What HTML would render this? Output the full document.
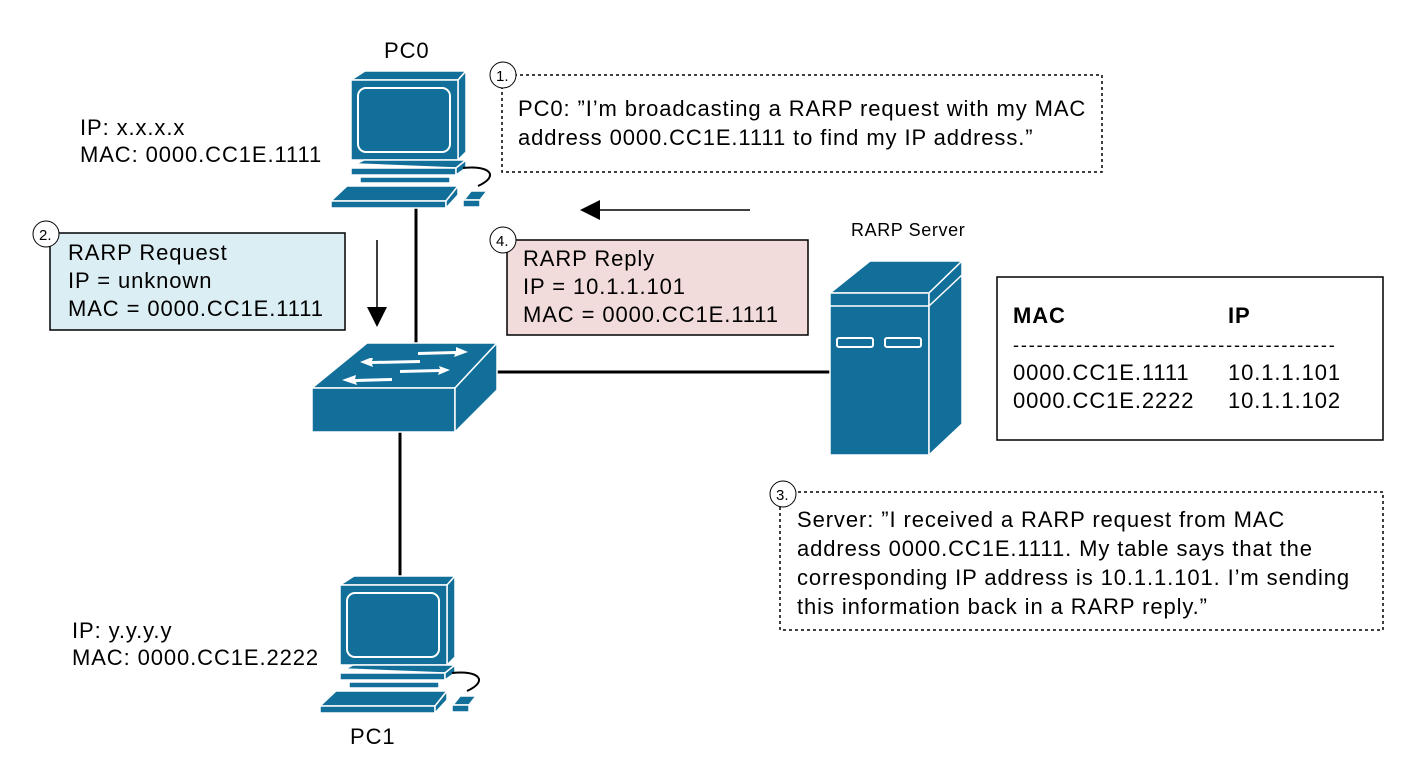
<!DOCTYPE html><html><head><style>body{margin:0;background:#fff}svg{display:block}text{font-family:"Liberation Sans",sans-serif;font-size:22px;letter-spacing:0.9px;fill:#000}</style></head><body>
<svg width="1425" height="774" xmlns="http://www.w3.org/2000/svg">
<defs>
<g id="pc">
<polygon points="351,80 365,71 466,71 458,80" fill="#126f9a" stroke="#fff" stroke-width="1.5"/>
<polygon points="458,80 466,71 466,152 458,160" fill="#126f9a" stroke="#fff" stroke-width="1.5"/>
<rect x="351" y="80" width="107" height="80" fill="#126f9a" stroke="#fff" stroke-width="1.5"/>
<rect x="358" y="88" width="92" height="64" rx="8" fill="#126f9a" stroke="#fff" stroke-width="2"/>
<polygon points="356,164 364,160 466,160 456,168 " fill="#126f9a" stroke="#fff" stroke-width="1.5"/>
<rect x="351" y="168" width="105" height="7" fill="#126f9a" stroke="#fff" stroke-width="1.5"/>
<polygon points="456,168 466,160 466,168 456,175" fill="#126f9a" stroke="#fff" stroke-width="1.5"/>
<rect x="360" y="177" width="90" height="6" fill="#126f9a" stroke="#fff" stroke-width="1.5"/>
<polygon points="331,201 347,186 458,186 446,201" fill="#126f9a" stroke="#fff" stroke-width="1.5"/>
<rect x="331" y="201" width="115" height="7" fill="#126f9a" stroke="#fff" stroke-width="1.5"/>
<polygon points="446,201 458,186 458,195 446,208" fill="#126f9a" stroke="#fff" stroke-width="1.5"/>
<polygon points="464,200 471,191 487,191 480,200" fill="#126f9a" stroke="#fff" stroke-width="1.5"/>
<rect x="463" y="200" width="17" height="7" fill="#126f9a" stroke="#fff" stroke-width="1.5"/>
<path d="M463,168 C490,165 500,176 478,186" fill="none" stroke="#000" stroke-width="2"/>
</g>
<marker id="ah" viewBox="0 0 10 10" refX="9" refY="5" markerWidth="13" markerHeight="13" markerUnits="userSpaceOnUse" orient="auto"><path d="M0,0 L10,5 L0,10 z" fill="#000"/></marker>
<marker id="ah2" viewBox="0 0 10 10" refX="9" refY="5" markerWidth="20" markerHeight="20" markerUnits="userSpaceOnUse" orient="auto"><path d="M0,0 L10,5 L0,10 z" fill="#000"/></marker>
</defs>
<line x1="416" y1="208" x2="416" y2="345" stroke="#000" stroke-width="3"/>
<line x1="400" y1="430" x2="400" y2="576" stroke="#000" stroke-width="3"/>
<line x1="495" y1="372" x2="830" y2="372" stroke="#000" stroke-width="3"/>
<use href="#pc"/>
<use href="#pc" transform="translate(-11,505)"/>
<polygon points="312,388 367,343 497,343 455,388" fill="#126f9a" stroke="#fff" stroke-width="1.5"/>
<rect x="312" y="388" width="143" height="44" fill="#126f9a" stroke="#fff" stroke-width="1.5"/>
<polygon points="455,388 497,343 497,390 455,432" fill="#126f9a" stroke="#fff" stroke-width="1.5"/>
<g fill="#fff"><path d="M418,352 L456,351 L456,347 L468,352 L454,357 L455,354 L418,355z"/><path d="M420,360 L372,361 L373,358 L370,358 L360,362 L373,367 L372,364 L420,363z"/><path d="M400,370 L440,369 L439,366 L450,370 L438,375 L439,372 L400,373z"/><path d="M392,378 L355,379 L356,375 L342,380 L357,385 L356,382 L392,381z"/></g>
<polygon points="830,293 870,261 962,261 929,293" fill="#126f9a" stroke="#fff" stroke-width="1.5"/>
<rect x="830" y="293" width="99" height="162" fill="#126f9a" stroke="#fff" stroke-width="1.5"/>
<polygon points="929,293 962,261 962,424 929,455" fill="#126f9a" stroke="#fff" stroke-width="1.5"/>
<line x1="830" y1="306" x2="929" y2="306" stroke="#fff" stroke-width="1.5"/>
<line x1="929" y1="306" x2="962" y2="275" stroke="#fff" stroke-width="1.5"/>
<rect x="837" y="338" width="36" height="9" rx="2" fill="none" stroke="#fff" stroke-width="2"/>
<rect x="885" y="338" width="36" height="9" rx="2" fill="none" stroke="#fff" stroke-width="2"/>
<line x1="377" y1="240" x2="377" y2="325" stroke="#000" stroke-width="1.5" marker-end="url(#ah2)"/>
<line x1="750" y1="210" x2="582" y2="210" stroke="#000" stroke-width="1.5" marker-end="url(#ah2)"/>
<text x="384" y="58">PC0</text>
<text x="350" y="744">PC1</text>
<text x="80" y="135">IP: x.x.x.x</text>
<text x="80" y="162">MAC: 0000.CC1E.1111</text>
<text x="72" y="638">IP: y.y.y.y</text>
<text x="72" y="665">MAC: 0000.CC1E.2222</text>
<text x="851" y="236" style="font-size:18px;letter-spacing:0.6px">RARP Server</text>
<rect x="502" y="75" width="600" height="97" fill="none" stroke="#000" stroke-width="1.5" stroke-dasharray="3,3"/>
<circle cx="503" cy="75" r="13" fill="#fff" stroke="#000" stroke-width="1"/><text x="496" y="81" style="font-size:15px;letter-spacing:0">1.</text>
<text x="518" y="116">PC0: ”I’m broadcasting a RARP request with my MAC</text>
<text x="518" y="145">address 0000.CC1E.1111 to find my IP address.”</text>
<rect x="50" y="233" width="295" height="97" fill="#dbeef4" stroke="#000" stroke-width="1.5"/>
<circle cx="46" cy="234" r="13" fill="#fff" stroke="#000" stroke-width="1"/><text x="39" y="240" style="font-size:15px;letter-spacing:0">2.</text>
<text x="68" y="260">RARP Request</text>
<text x="68" y="288">IP = unknown</text>
<text x="68" y="316">MAC = 0000.CC1E.1111</text>
<rect x="507" y="240" width="301" height="95" fill="#f2dcdb" stroke="#000" stroke-width="1.5"/>
<circle cx="503" cy="240" r="13" fill="#fff" stroke="#000" stroke-width="1"/><text x="496" y="246" style="font-size:15px;letter-spacing:0">4.</text>
<text x="523" y="266">RARP Reply</text>
<text x="523" y="294">IP = 10.1.1.101</text>
<text x="523" y="322">MAC = 0000.CC1E.1111</text>
<rect x="997" y="277" width="386" height="163" fill="#fff" stroke="#000" stroke-width="1.5"/>
<text x="1013" y="323" style="font-weight:bold">MAC</text><text x="1228" y="323" style="font-weight:bold">IP</text>
<text x="1013" y="351" style="font-size:18px;letter-spacing:1.9px">-----------------------------------------</text>
<text x="1013" y="380">0000.CC1E.1111</text><text x="1228" y="380">10.1.1.101</text>
<text x="1013" y="408">0000.CC1E.2222</text><text x="1228" y="408">10.1.1.102</text>
<rect x="780" y="492" width="603" height="138" fill="none" stroke="#000" stroke-width="1.5" stroke-dasharray="3,3"/>
<circle cx="783" cy="494" r="13" fill="#fff" stroke="#000" stroke-width="1"/><text x="776" y="500" style="font-size:15px;letter-spacing:0">3.</text>
<text x="797" y="527">Server: ”I received a RARP request from MAC</text>
<text x="797" y="556">address 0000.CC1E.1111. My table says that the</text>
<text x="797" y="585">corresponding IP address is 10.1.1.101. I’m sending</text>
<text x="797" y="614">this information back in a RARP reply.”</text>
</svg></body></html>
